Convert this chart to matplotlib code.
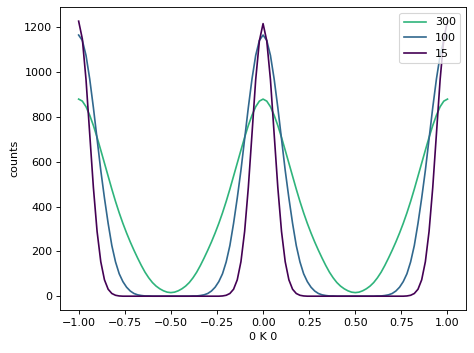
#!/usr/bin/env python3
"""Counts along 0 K 0 for three temperatures."""
import matplotlib
matplotlib.use('Agg')
import matplotlib.pyplot as plt
import numpy as np

# positions along 0 K 0, step 0.02 from -1 to 1 (101 points)
k_pos = np.round(np.linspace(-1.0, 1.0, 101), 4)

temps = ['300', '100', '15']
colors = ['#2fb47c', '#31688e', '#440154']

counts_300 = [
    880, 871, 846, 808, 762, 709, 652, 594, 536, 478,  # -1.00 .. -0.82
    423, 372, 325, 282, 242, 205, 170, 137, 107, 82,   # -0.80 .. -0.62
    61, 45, 33, 24, 18, 16, 18, 24, 33, 45,            # -0.60 .. -0.42
    61, 82, 107, 137, 170, 205, 242, 282, 325, 372,    # -0.40 .. -0.22
    423, 478, 536, 594, 652, 709, 762, 808, 846, 871,  # -0.20 .. -0.02
    880, 871, 846, 808, 762, 709, 652, 594, 536, 478,  #  0.00 ..  0.18
    423, 372, 325, 282, 242, 205, 170, 137, 107, 82,   #  0.20 ..  0.38
    61, 45, 33, 24, 18, 16, 18, 24, 33, 45,            #  0.40 ..  0.58
    61, 82, 107, 137, 170, 205, 242, 282, 325, 372,    #  0.60 ..  0.78
    423, 478, 536, 594, 652, 709, 762, 808, 846, 871,  #  0.80 ..  0.98
    880,                                               #  1.00
]
counts_100 = [
    1166, 1142, 1075, 970, 842, 702, 562, 438, 325, 226,
    153, 100, 65, 40, 23, 12, 6, 3, 1, 1,
    0, 0, 0, 0, 0, 0, 0, 0, 0, 0,
    0, 1, 1, 3, 6, 12, 23, 40, 65, 100,
    153, 226, 325, 438, 562, 702, 842, 970, 1075, 1142,
    1166, 1142, 1075, 970, 842, 702, 562, 438, 325, 226,
    153, 100, 65, 40, 23, 12, 6, 3, 1, 1,
    0, 0, 0, 0, 0, 0, 0, 0, 0, 0,
    0, 1, 1, 3, 6, 12, 23, 40, 65, 100,
    153, 226, 325, 438, 562, 702, 842, 970, 1075, 1142,
    1166,
]
counts_15 = [
    1228, 1149, 967, 725, 485, 289, 154, 73, 31, 12,
    4, 1, 0, 0, 0, 0, 0, 0, 0, 0,
    0, 0, 0, 0, 0, 0, 0, 0, 0, 0,
    0, 0, 0, 0, 0, 0, 0, 0, 0, 1,
    4, 12, 31, 73, 154, 289, 485, 725, 967, 1140,
    1217, 1140, 967, 725, 485, 289, 154, 73, 31, 12,
    4, 1, 0, 0, 0, 0, 0, 0, 0, 0,
    0, 0, 0, 0, 0, 0, 0, 0, 0, 0,
    0, 0, 0, 0, 0, 0, 0, 0, 0, 1,
    4, 12, 31, 73, 154, 289, 485, 725, 967, 1149,
    1228,
]


def main():
    dpi = 80
    fig = plt.figure(figsize=(474 / dpi, 353 / dpi), dpi=dpi)
    ax = fig.add_axes([0.127, 0.122, 0.856, 0.857])
    for lab, col, ys in zip(temps, colors, [counts_300, counts_100, counts_15]):
        ax.plot(k_pos, ys, color=col, label=lab)
    ax.set_xlabel('0 K 0')
    ax.set_ylabel('counts')
    ax.legend(loc='upper right')
    fig.savefig('out.png', dpi=dpi)


if __name__ == '__main__':
    main()
